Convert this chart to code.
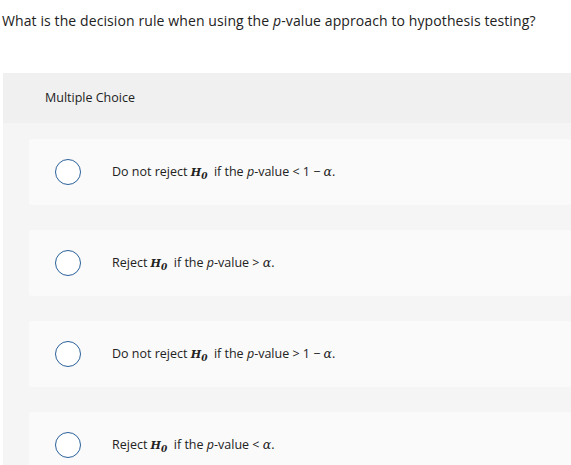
<!DOCTYPE html>
<html lang="en">
<head>
  <meta charset="UTF-8" />
  <title>Multiple Choice</title>
  <script src="https://cdn.jsdelivr.net/npm/chart.js"></script>
  <style>
    body {
      margin: 0;
      width: 571px;
      height: 465px;
      overflow: hidden;
      background: #fff;
      font-family: 'Open Sans', 'Lato', sans-serif;
      color: #222;
      position: relative;
    }
    .question {
      position: absolute;
      left: 2px;
      top: 11px;
      font-size: 14px;
      letter-spacing: 0.1px;
      white-space: nowrap;
    }
    .box {
      position: absolute;
      left: 3px;
      top: 73px;
      width: 568px;
      height: 392px;
      background: #f5f5f5;
    }
    .box .head {
      height: 50px;
      background: #f0f0f0;
      font-size: 12.5px;
      line-height: 50px;
      padding-left: 42px;
    }
    .card {
      position: absolute;
      left: 29px;
      width: 542px;
      height: 66px;
      background: #fafafa;
      border-radius: 3px;
    }
    .radio {
      position: absolute;
      left: 26px;
      top: 20px;
      width: 24px;
      height: 24px;
      border: 1.5px solid #2a6099;
      border-radius: 50%;
      background: #fff;
    }
    .label {
      position: absolute;
      left: 83px;
      top: 0;
      line-height: 66px;
      font-size: 12.5px;
      white-space: nowrap;
    }
    .h0 { font-family: 'DejaVu Serif', serif; font-style: italic; font-weight: bold; font-size: 11px; }
    .h0 sub { font-size: 9px; }
    i.m { font-family: 'DejaVu Serif', serif; }
  </style>
</head>
<body>
  <div class="question">What is the decision rule when using the <i>p</i>-value approach to hypothesis testing?</div>
  <div class="box">
    <div class="head">Multiple Choice</div>
  </div>
  <div id="choices"></div>

  <script>
    // answer options: prefix, comparison, suffix
    const prefixes = ['Do not reject', 'Reject', 'Do not reject', 'Reject'];
    const comparisons = ['<', '>', '>', '<'];
    const thresholds = ['1 \u2212 <i class="m">\u03b1</i>', '<i class="m">\u03b1</i>', '1 \u2212 <i class="m">\u03b1</i>', '<i class="m">\u03b1</i>'];
    const cardTops = [139, 230, 321, 412];

    const wrap = document.getElementById('choices');
    prefixes.forEach((p, i) => {
      const card = document.createElement('div');
      card.className = 'card';
      card.style.top = cardTops[i] + 'px';
      card.innerHTML = '<div class="radio"></div><div class="label">' + p +
        ' <span class="h0">H<sub>0</sub></span>&nbsp; if the <i>p</i>-value ' +
        comparisons[i] + ' ' + thresholds[i] + '.</div>';
      wrap.appendChild(card);
    });
  </script>
</body>
</html>
